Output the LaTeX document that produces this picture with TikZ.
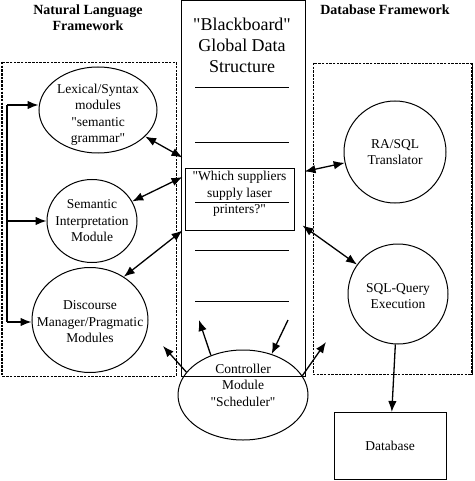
\documentclass[tikz,border=0pt]{standalone}
\usepackage{fontspec}
\setmainfont{Liberation Serif}[Ligatures=TeXOff]
\usetikzlibrary{arrows.meta,shapes.geometric}

\begin{document}
\begin{tikzpicture}
        [x=1pt,y=-1pt,
        module/.style={ellipse,draw=black,line width=1pt,inner sep=0pt},
        modtext/.style={align=center,font=\fontsize{13.5}{16.5}\selectfont},
        titletext/.style={align=center,font=\fontsize{14}{16}\selectfont\bfseries},
        boardtext/.style={align=center,font=\fontsize{18}{21}\selectfont},
        framebox/.style={draw=black,dash pattern=on 2.5pt off 1.2pt,line width=0.8pt},
        boardline/.style={line width=1pt},
        link/.style={line width=1.3pt,-{Latex[length=11pt,width=8.5pt]}},
        dlink/.style={line width=1.3pt,{Latex[length=11pt,width=8.5pt]}-{Latex[length=11pt,width=8.5pt]}}
        ]
        \useasboundingbox (0,0) rectangle (474,481);
        % frameworks
        \draw[framebox] (2,62) rectangle (176,376);
        \draw[framebox,line width=2pt] (2,62) -- (2,376);
        \draw[framebox] (313,63) rectangle (472,374);
        \draw[framebox,line width=2pt] (472,63) -- (472,374);
        \node[titletext] (nl-title) at (88,18) {Natural Language\\Framework};
        \node[titletext] (db-title) at (385,10) {Database Framework};
        % blackboard
        \draw[line width=1pt] (181,1) rectangle (305,376);
        \node[boardtext] (board-title) at (242,45) {"Blackboard"\\Global Data\\Structure};
        \node[draw=black,line width=1pt,minimum width=109,minimum height=62,
              label={[modtext,yshift=5pt]center:{"Which suppliers\\supply laser\\printers?"}}] (query) at (239.5,199) {};
        \foreach \y in {88,143,202,250,301}
            \draw[boardline] (195,\y) -- (289,\y);
        % natural language modules
        \node[module,minimum width=118,minimum height=86,
              label={[modtext,yshift=-5pt]center:{Lexical/Syntax\\modules\\"semantic\\grammar"}}] (nl-lex) at (98,110) {};
        \node[module,minimum width=90,minimum height=83,
              label={[modtext]center:{Semantic\\Interpretation\\Module}}] (nl-sem) at (92,221) {};
        \node[module,minimum width=116,minimum height=105,
              label={[modtext,yshift=-2pt]center:{Discourse\\Manager/Pragmatic\\Modules}}] (nl-disc) at (90,320) {};
        % database modules
        \node[module,minimum size=102,
              label={[modtext]center:{RA/SQL\\Translator}}] (db-ra) at (395,152) {};
        \node[module,minimum size=100,
              label={[modtext,yshift=-2pt]center:{SQL-Query\\Execution}}] (db-sql) at (398,294) {};
        \node[draw=black,line width=1pt,minimum width=112,minimum height=67,modtext] (db-base) at (390,446) {Database};
        % controller
        \node[module,minimum width=130,minimum height=90,
              label={[modtext,yshift=10pt]center:{Controller\\Module\\"Scheduler"}}] (ctrl) at (243,395) {};
        % feedback loop
        \coordinate (loop-top) at (7,105);
        \coordinate (loop-bot) at (7,322);
        \draw[line width=1.3pt] (loop-top) -- (loop-bot);
        \draw[link] (loop-top) -- (loop-top -| nl-lex.west);
        \draw[link] (loop-top |- nl-sem.west) -- (nl-sem.west);
        \draw[link] (loop-bot) -- (loop-bot -| nl-disc.west);
        % links to the blackboard
        \draw[dlink] (nl-lex) -- ([shift={(-2,-10)}]query.north west);
        \draw[dlink] (nl-sem) -- ([shift={(-2,-22)}]query.west);
        \draw[dlink] (nl-disc.52) -- ([xshift=-2]query.south west);
        \draw[dlink] (db-ra) -- ([shift={(10,4)}]query.north east);
        \draw[dlink] (db-sql) -- ([shift={(8,-5)}]query.south east);
        \draw[link] (db-sql) -- (db-base);
        % controller links
        \coordinate (ctrl-nl) at (163,346);
        \coordinate (ctrl-up) at (199,320);
        \coordinate (board-down) at (288,320);
        \coordinate (ctrl-db) at (326,342);
        \draw[link] (ctrl.158) -- (ctrl-nl);
        \draw[link] (ctrl.129) -- (ctrl-up);
        \draw[link] (board-down) -- (ctrl.55);
        \draw[link] (ctrl.18) -- (ctrl-db);
    \end{tikzpicture}
\end{document}
